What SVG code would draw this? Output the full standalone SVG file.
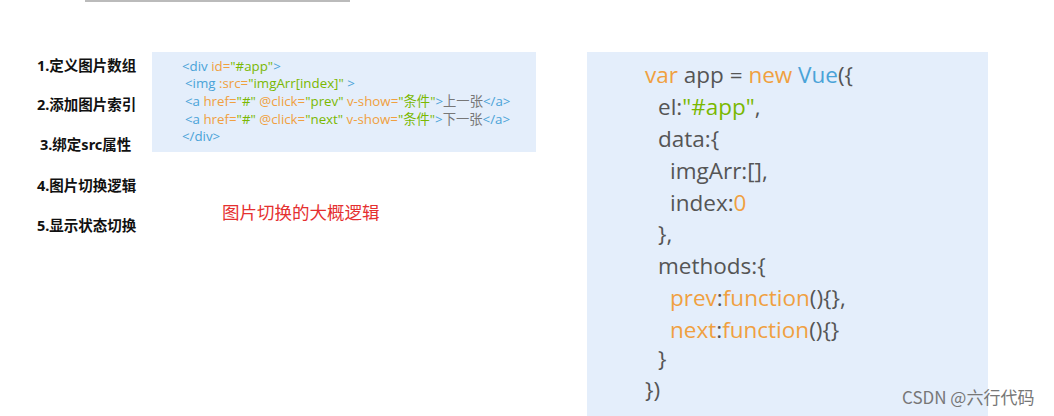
<svg xmlns="http://www.w3.org/2000/svg" width="1054" height="416" viewBox="0 0 1054 416">
<style>
.s{font-family:"Noto Sans","Noto Sans CJK SC",sans-serif;font-size:14.5px;font-weight:bold;fill:#111}
.c{font-family:"Open Sans","Noto Sans CJK SC",sans-serif;font-size:13.3px}
.v{font-family:"Open Sans","Noto Sans CJK SC",sans-serif;font-size:22.5px;fill:#555}
.b{fill:#4aa3d8}.o{fill:#f0a040}.g{fill:#7ab800}.k{fill:#666}.gr{fill:#777}
</style>
<rect width="1054" height="416" fill="#fff"/>
<rect x="85" y="0" width="265" height="2" fill="#bbb"/>
<g id="steps">
<text class="s" x="37" y="71">1.定义图片数组</text>
<text class="s" x="37" y="110">2.添加图片索引</text>
<text class="s" x="40" y="150">3.绑定src属性</text>
<text class="s" x="37" y="191">4.图片切换逻辑</text>
<text class="s" x="37" y="231">5.显示状态切换</text>
</g>
<g id="html">
<rect x="152" y="52" width="384" height="100" fill="#e4eefb"/>
<text class="c" x="182" y="71"><tspan class="b">&lt;div </tspan><tspan class="o">id=</tspan><tspan class="g">"#app"</tspan><tspan class="b">&gt;</tspan></text>
<text class="c" x="185" y="88"><tspan class="b">&lt;img </tspan><tspan class="o">:src=</tspan><tspan class="g">"imgArr[index]"</tspan><tspan class="b"> &gt;</tspan></text>
<text class="c" x="185" y="106"><tspan class="b">&lt;a </tspan><tspan class="o">href=</tspan><tspan class="g">"#"</tspan><tspan class="o"> @click=</tspan><tspan class="g">"prev"</tspan><tspan class="o"> v-show=</tspan><tspan class="g">"条件"</tspan><tspan class="b">&gt;</tspan><tspan class="gr">上一张</tspan><tspan class="b">&lt;/a&gt;</tspan></text>
<text class="c" x="185" y="124"><tspan class="b">&lt;a </tspan><tspan class="o">href=</tspan><tspan class="g">"#"</tspan><tspan class="o"> @click=</tspan><tspan class="g">"next"</tspan><tspan class="o"> v-show=</tspan><tspan class="g">"条件"</tspan><tspan class="b">&gt;</tspan><tspan class="gr">下一张</tspan><tspan class="b">&lt;/a&gt;</tspan></text>
<text class="c b" x="182" y="141">&lt;/div&gt;</text>
</g>
<text x="222" y="219" font-family="Noto Sans CJK SC,sans-serif" font-size="17.5" fill="#e53030">图片切换的大概逻辑</text>
<g id="vue">
<rect x="587" y="52" width="401" height="364" fill="#e4eefb"/>
<text class="v" x="645" y="83"><tspan class="o">var</tspan> app = <tspan class="o">new</tspan> <tspan class="b">Vue</tspan>({</text>
<text class="v" x="658" y="115">el:<tspan class="g">"#app"</tspan>,</text>
<text class="v" x="658" y="147">data:{</text>
<text class="v" x="670" y="179">imgArr:[],</text>
<text class="v" x="670" y="211">index:<tspan class="o">0</tspan></text>
<text class="v" x="658" y="242">},</text>
<text class="v" x="658" y="274">methods:{</text>
<text class="v" x="670" y="306"><tspan class="o">prev</tspan>:<tspan class="o">function</tspan>(){},</text>
<text class="v" x="670" y="338"><tspan class="o">next</tspan>:<tspan class="o">function</tspan>(){}</text>
<text class="v" x="658" y="367">}</text>
<text class="v" x="645" y="398">})</text>
</g>
<text x="902" y="404" font-family="Noto Sans CJK SC,sans-serif" font-size="17" fill="#777">CSDN @六行代码</text>
</svg>
